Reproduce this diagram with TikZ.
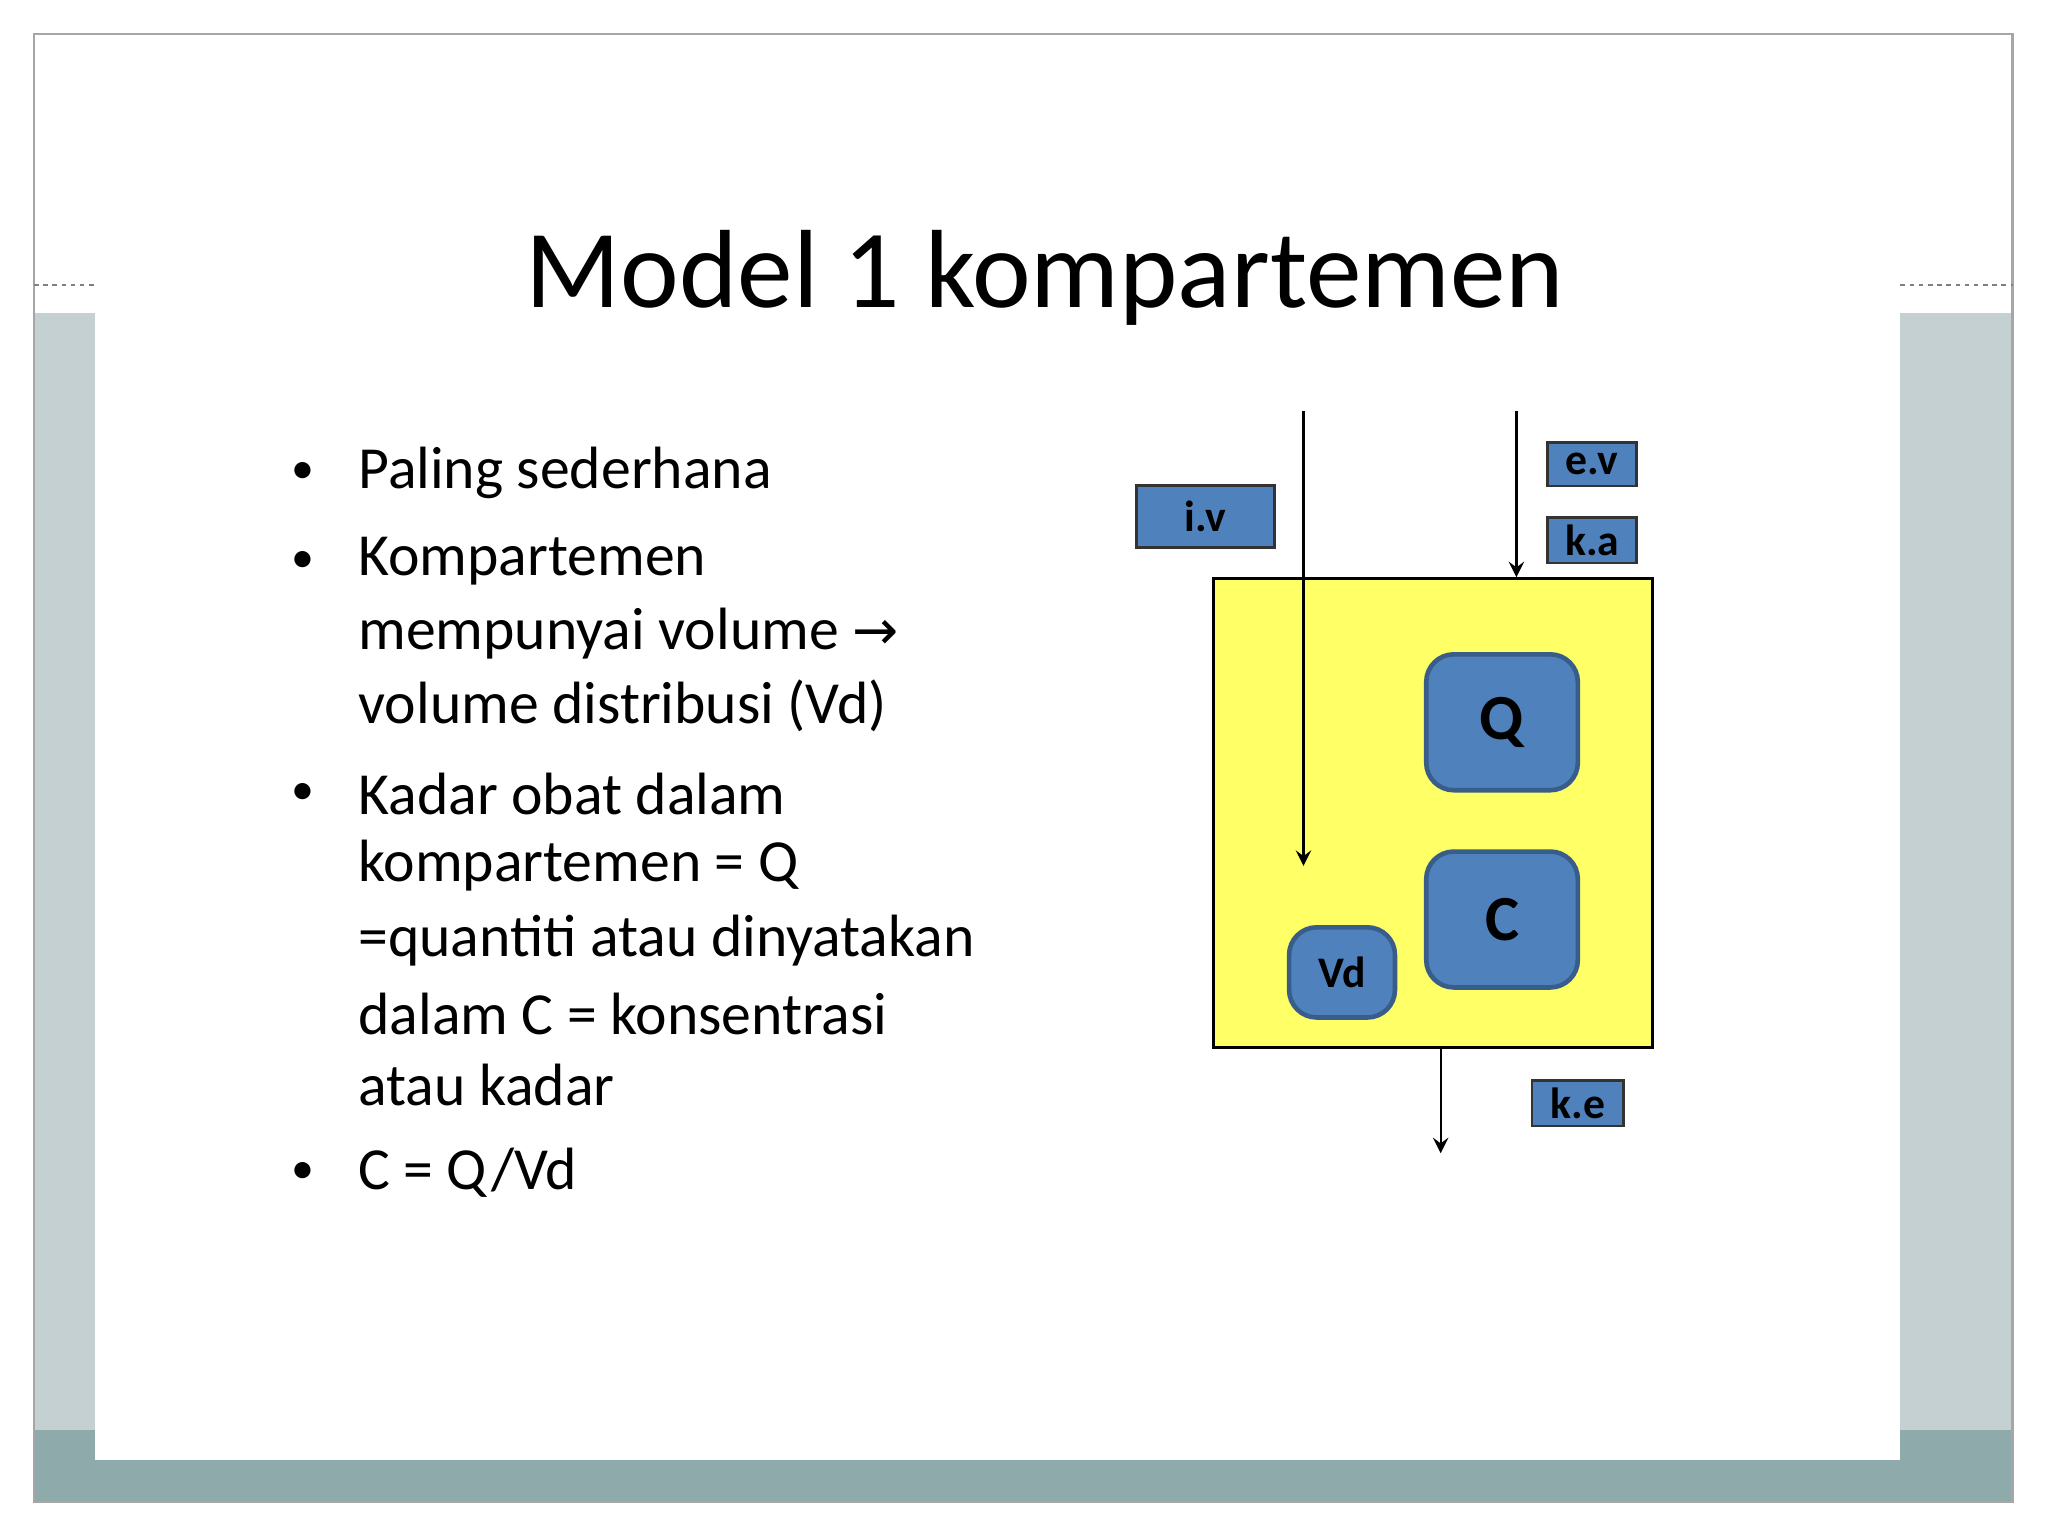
\documentclass[tikz,border=0pt]{standalone}
\usepackage{fontspec}
\setmainfont{Carlito}
\newfontfamily\djv{DejaVu Sans}
\begin{document}
\begin{tikzpicture}[x=0.01cm,y=-0.01cm,
  blue box/.style={draw=black!80,fill=blueC,line width=0.6pt,text=black,font=\fontsize{9.5}{9.5}\selectfont\bfseries,inner sep=0pt},
  rnd/.style={blue box,rounded corners=6pt,draw=blueD,line width=1pt},
  arr/.style={-stealth,line width=0.5pt}]
\definecolor{blueC}{HTML}{4F81BD}
\definecolor{blueD}{HTML}{385D8A}
\definecolor{sideC}{HTML}{C5D0D3}
\definecolor{botC}{HTML}{8FAAAA}
\definecolor{yelC}{HTML}{FFFF66}
\useasboundingbox (0,0) rectangle (1568,1176);
\fill[white] (0,0) rectangle (1568,1176);
\fill[sideC] (26,240) rectangle (73,1150);
\fill[sideC] (1455,240) rectangle (1541,1150);
\fill[botC] (26,1095) rectangle (1541,1150);
\fill[white] (73,26) rectangle (1455,1118);
\draw[gray!70,line width=0.6pt] (26,26) rectangle (1541,1150);
\draw[gray,dash pattern=on 1pt off 1pt,line width=0.4pt] (26,218) -- (73,218) (1455,218) -- (1541,218);
\node (title) at (800,213) {\fontsize{24.2}{24}\selectfont Model 1 kompartemen};
\begin{scope}[every node/.style={anchor=west,font=\fontsize{13}{13}\selectfont}]
\foreach \y in {362,430,608,898} \node at (211,\y) {\fontsize{10}{10}\selectfont•};
\node (t1) at (262,362) {Paling sederhana};
\node (t2) at (262,430) {Kompartemen};
\node (t3) at (262,485) {mempunyai volume {\djv\fontsize{12}{12}\selectfont →}};
\node (t4) at (262,540) {volume distribusi (Vd)};
\node (t5) at (262,608) {Kadar obat dalam};
\node (t6) at (262,663) {kompartemen = Q};
\node (t7) at (262,720) {=quantiti atau dinyatakan};
\node (t8) at (262,776) {dalam C = konsentrasi};
\node (t9) at (262,831) {atau kadar};
\node (t10) at (262,898) {C = Q/Vd};
\end{scope}
\node[draw=black,fill=yelC,line width=0.6pt,minimum width=3.36cm,minimum height=3.59cm] (box) at (1097,622.5) {};
\node[rnd,minimum width=1.16cm,minimum height=1.04cm,font=\fontsize{14}{14}\selectfont\bfseries] (Q) at (1150,553) {Q};
\node[rnd,minimum width=1.16cm,minimum height=1.04cm,font=\fontsize{14}{14}\selectfont\bfseries] (C) at (1150,704) {C};
\node[rnd,minimum width=0.81cm,minimum height=0.69cm] (Vd) at (1027.5,744.5) {Vd};
\node[blue box,minimum width=1.06cm,minimum height=0.47cm] (iv) at (923,395.5) {i.v};
\node[blue box,minimum width=0.68cm,minimum height=0.33cm] (ev) at (1219,355.5) {e.v};
\node[blue box,minimum width=0.68cm,minimum height=0.35cm] (ka) at (1219,413.5) {k.a};
\node[blue box,minimum width=0.70cm,minimum height=0.35cm] (ke) at (1208,844.5) {k.e};
\coordinate (a1s) at (998,315); \coordinate (a1e) at (998,663);
\coordinate (a2s) at (1161,315); \coordinate (a2e) at (1161,442);
\coordinate (a3s) at (1103,802); \coordinate (a3e) at (1103,883);
\draw[arr] (a1s) -- (a1e);
\draw[arr] (a2s) -- (a2e);
\draw[arr] (a3s) -- (a3e);
\end{tikzpicture}
\end{document}
